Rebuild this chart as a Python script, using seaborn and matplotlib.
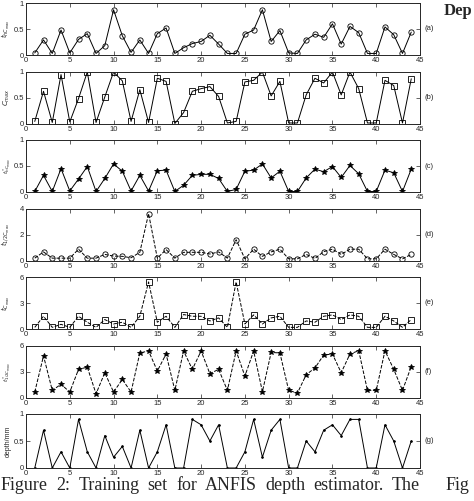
import matplotlib
matplotlib.use("Agg")
import matplotlib.pyplot as plt
import seaborn as sns
import pandas as pd
import numpy as np

# sample index
samples = np.arange(1, 45)

# (a) t_hCmax
t_hcmax = [0.04, 0.29, 0.03, 0.48, 0.04, 0.30, 0.41, 0.03, 0.18, 0.87,
           0.37, 0.05, 0.29, 0.03, 0.41, 0.52, 0.03, 0.14, 0.22, 0.26,
           0.38, 0.21, 0.03, 0.03, 0.40, 0.48, 0.87, 0.26, 0.47, 0.04,
           0.03, 0.29, 0.40, 0.34, 0.60, 0.21, 0.55, 0.43, 0.03, 0.03,
           0.54, 0.39, 0.03, 0.44]
# (b) C_max
c_max = [0.04, 0.62, 0.02, 0.94, 0.03, 0.48, 0.99, 0.02, 0.51, 0.99,
         0.82, 0.04, 0.65, 0.02, 0.87, 0.81, 0.00, 0.21, 0.62, 0.67,
         0.71, 0.52, 0.01, 0.04, 0.80, 0.83, 0.99, 0.53, 0.81, 0.01,
         0.01, 0.55, 0.87, 0.78, 0.99, 0.55, 0.99, 0.67, 0.01, 0.01,
         0.83, 0.73, 0.01, 0.86]
# (c) t*_hCmax
t_star_hcmax = [0.01, 0.32, 0.01, 0.45, 0.02, 0.25, 0.49, 0.01, 0.26, 0.54,
                0.40, 0.02, 0.32, 0.02, 0.41, 0.42, 0.01, 0.13, 0.32, 0.34,
                0.34, 0.26, 0.01, 0.05, 0.40, 0.42, 0.54, 0.27, 0.40, 0.01,
                0.01, 0.27, 0.44, 0.39, 0.49, 0.28, 0.51, 0.35, 0.01, 0.01,
                0.42, 0.37, 0.01, 0.44]
# (d) t_1/2Cmax
t_half = [0.18, 0.66, 0.18, 0.18, 0.18, 0.87, 0.18, 0.18, 0.47, 0.34,
          0.32, 0.21, 0.63, 3.60, 0.18, 0.84, 0.18, 0.63, 0.63, 0.63,
          0.50, 0.66, 0.18, 1.60, 0.13, 0.87, 0.32, 0.66, 0.87, 0.13,
          0.13, 0.47, 0.16, 0.68, 0.87, 0.47, 0.87, 0.87, 0.13, 0.13,
          0.87, 0.47, 0.13, 0.47]
# (e) t_Cmax
t_cmax = [0.19, 1.47, 0.19, 0.54, 0.19, 1.47, 0.78, 0.19, 1.09, 0.58,
          0.78, 0.19, 1.47, 5.43, 0.78, 1.47, 0.19, 1.67, 1.47, 1.47,
          0.93, 1.28, 0.19, 5.43, 0.58, 1.63, 0.58, 1.28, 1.47, 0.19,
          0.19, 0.93, 0.78, 1.47, 1.63, 1.09, 1.63, 1.47, 0.19, 0.19,
          1.47, 0.93, 0.19, 1.09]
# (f) t*_1/2Cmax
t_star_half = [0.63, 4.80, 0.82, 1.53, 0.63, 3.25, 3.50, 0.43, 2.86, 0.63,
               2.08, 0.63, 5.14, 5.37, 3.06, 5.02, 0.82, 5.37, 3.25, 5.37,
               2.75, 3.25, 0.82, 5.37, 2.47, 5.37, 0.67, 5.20, 5.14, 0.82,
               0.51, 2.63, 3.41, 4.90, 5.02, 2.86, 5.02, 5.40, 0.82, 0.82,
               5.40, 3.25, 0.82, 3.57]
# (g) depth
depth = [0.0, 0.7, 0.0, 0.3, 0.0, 0.9, 0.3, 0.0, 0.6, 0.2,
         0.4, 0.0, 0.7, 0.0, 0.3, 0.8, 0.0, 0.0, 0.9, 0.8,
         0.5, 0.8, 0.0, 0.0, 0.3, 0.9, 0.2, 0.7, 0.9, 0.0,
         0.0, 0.5, 0.3, 0.7, 0.8, 0.6, 0.9, 0.9, 0.0, 0.0,
         0.8, 0.5, 0.0, 0.5]

panels = [
    (t_hcmax, r'$t_{hC_{max}}$', 'o', '-', 1, [0, 0.5, 1], ['0', '0.5', '1'], '(a)'),
    (c_max, r'$C_{max}$', 's', '-', 1, [0, 0.5, 1], ['0', '0.5', '1'], '(b)'),
    (t_star_hcmax, r'$t^*_{hC_{max}}$', '*', '-', 1, [0, 0.5, 1], ['0', '0.5', '1'], '(c)'),
    (t_half, r'$t_{1/2C_{max}}$', 'o', '--', 4, [0, 2, 4], ['0', '2', '4'], '(d)'),
    (t_cmax, r'$t_{C_{max}}$', 's', '--', 6, [0, 3, 6], ['0', '3', '6'], '(e)'),
    (t_star_half, r'$t^*_{1/2C_{max}}$', '*', '--', 6, [0, 3, 6], ['0', '3', '6'], '(f)'),
    (depth, 'depth/mm', '.', '-', 1, [0, 0.5, 1], ['0', '0.5', '1'], '(g)'),
]

caption = 'Figure 2: Training set for ANFIS depth estimator. The'

sns.set_style('ticks')
plt.rcParams['font.family'] = ['Liberation Sans', 'DejaVu Sans']
plt.rcParams['mathtext.fontset'] = 'dejavusans'

W, H = 474, 501
fig = plt.figure(figsize=(W / 100, H / 100), dpi=100)

left = 26 / W
width = 394 / W
for i, (vals, ylab, mk, ls, ymax, yt, ytl, tag) in enumerate(panels):
    top = 3 + 68.5 * i
    h = 54 if i == 6 else 52
    ax = fig.add_axes([left, 1 - (top + h) / H, width, h / H])
    df = pd.DataFrame({'sample': samples, 'value': vals})
    if mk == '*':
        ms, mfc = 3.8, 'black'
    elif mk == '.':
        ms, mfc = 2.5, 'black'
    else:
        ms, mfc = 3.8, 'none'
    sns.lineplot(data=df, x='sample', y='value', ax=ax, color='black',
                 linewidth=0.7, linestyle=ls, marker=mk, markersize=ms,
                 markerfacecolor=mfc, markeredgecolor='black',
                 markeredgewidth=0.6, errorbar=None)
    ax.set_xlim(0, 45)
    ax.set_ylim(0, ymax)
    ax.set_xticks(range(0, 46, 5))
    ax.set_yticks(yt)
    ax.set_yticklabels(ytl)
    ax.set_xlabel('')
    # starred labels are taller, keep them inside the page
    ax.set_ylabel(ylab, fontsize=4.3 if '*' in ylab else 5, labelpad=0)
    ax.yaxis.set_label_coords(-0.034 if '*' in ylab else -0.036, 0.5)
    ax.tick_params(direction='in', top=True, right=True, length=3,
                   width=0.5, labelsize=5.5, pad=1.5)
    for s in ax.spines.values():
        s.set_linewidth(0.7)
    ax.text(1.012, 0.5, tag, transform=ax.transAxes, fontsize=5.5,
            va='center', ha='left')

# caption: one justified line spanning 0..420 px
fig.canvas.draw()
renderer = fig.canvas.get_renderer()
words = caption.split()
texts = []
for w in words:
    t = fig.text(0, 1 - 490 / H, w, fontsize=13, family='Liberation Serif',
                 va='baseline', ha='left')
    texts.append(t)
widths = [t.get_window_extent(renderer).width for t in texts]
gap = (420 - 1 - sum(widths)) / (len(words) - 1)
xp = 1
for t, wd in zip(texts, widths):
    t.set_x(xp / W)
    xp += wd + gap

fig.text(446 / W, 1 - 490 / H, 'Fig', fontsize=13, family='Liberation Serif',
         va='baseline', ha='left')
fig.text(444 / W, 1 - 15 / H, 'Dep', fontsize=12, family='Liberation Serif',
         fontweight='bold', va='baseline', ha='left')

fig.savefig('out.png', dpi=100)
